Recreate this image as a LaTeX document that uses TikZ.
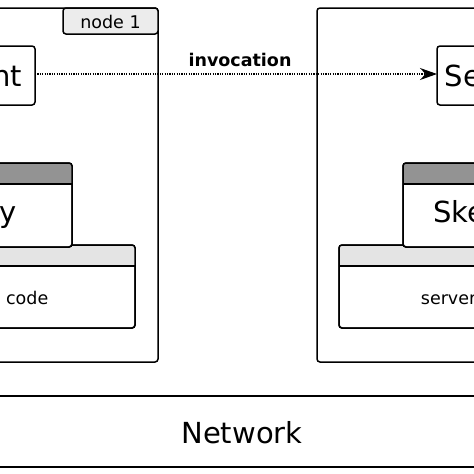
\documentclass[tikz,border=0pt]{standalone}
\usepackage{fontspec}
\setmainfont{DejaVu Sans}
\usetikzlibrary{calc,arrows.meta}
\definecolor{hdrdark}{HTML}{939393}
\definecolor{hdrlight}{HTML}{E4E4E4}
\definecolor{tabfill}{HTML}{ECECEC}
\tikzset{
  box/.style={draw, line width=1.5pt, rounded corners=3pt, fill=white, inner sep=0pt, outer sep=0pt, anchor=north west},
  bigtxt/.style={font=\fontsize{29}{34}\selectfont},
  smalltxt/.style={font=\fontsize{17.5}{21}\selectfont},
  lbl/.style={anchor=base, inner sep=0pt},
  invoke/.style={line width=1.2pt, dash pattern=on 1.2pt off 1.2pt, -{Stealth[length=17pt,width=12pt]}},
  netline/.style={line width=2pt},
}
\newcommand\hdrbar[3]{%
  \begin{scope}
    \clip[rounded corners=3pt] (#1.north west) rectangle (#1.south east);
    \fill[#3] (#1.north west) rectangle ($(#1.north east)+(0,#2)$);
  \end{scope}
  \draw[line width=1.5pt] ($(#1.north west)+(0,#2)$) -- ($(#1.north east)+(0,#2)$);
  \draw[line width=1.5pt, rounded corners=3pt] (#1.north west) rectangle (#1.south east);
}
\begin{document}
\begin{tikzpicture}[x=1pt,y=-1pt]
\useasboundingbox (0,0) rectangle (474,474);
\clip (0,0) rectangle (474,474);
\fill[white] (0,0) rectangle (474,474);

% machine boxes
\node[box, minimum width=358pt, minimum height=354pt] (node1) at (-200,8) {};
\node[box, fill=tabfill, minimum width=95pt, minimum height=26pt, smalltxt] (tab1) at (63,8) {};
\node[lbl, smalltxt] (tab1lbl) at (110.5,28) {node 1};
\node[box, minimum width=400pt, minimum height=354pt] (node2) at (317,8) {};

% client side
\node[box, minimum width=110pt, minimum height=59pt, bigtxt] (client) at (-75,46) {Client};
\node[box, minimum width=267pt, minimum height=83pt] (ccode) at (-132,245) {};
\hdrbar{ccode}{21}{hdrlight}
\node[lbl, anchor=base east, smalltxt] (ccodelbl) at (48.5,304) {client code};
\node[box, minimum width=190pt, minimum height=84pt] (proxy) at (-118,163) {};
\hdrbar{proxy}{21}{hdrdark}
\node[lbl, bigtxt] (proxylbl) at (-23,222) {Proxy};

% server side
\node[box, minimum width=111pt, minimum height=59pt, bigtxt] (server) at (437,46) {Server};
\node[box, minimum width=267pt, minimum height=83pt] (scode) at (339,245) {};
\hdrbar{scode}{21}{hdrlight}
\node[lbl, smalltxt] (scodelbl) at (472.5,304) {server code};
\node[box, minimum width=186pt, minimum height=84pt] (skel) at (403,163) {};
\hdrbar{skel}{21}{hdrdark}
\node[lbl, bigtxt] (skellbl) at (496,222) {Skeleton};

% invocation
\draw[invoke] ([yshift=1.5pt]client.east) -- ([yshift=1.5pt]server.west);
\node[lbl, smalltxt, font=\fontsize{17.5}{21}\selectfont\bfseries] (inv) at (240,66) {invocation};

% network
\coordinate (nl1) at (-5,396);
\coordinate (nr1) at (480,396);
\coordinate (nl2) at (-5,467);
\coordinate (nr2) at (480,467);
\draw[netline] (nl1) -- (nr1);
\draw[netline] (nl2) -- (nr2);
\node[lbl, bigtxt] (net) at (242,443) {Network};
\end{tikzpicture}
\end{document}
